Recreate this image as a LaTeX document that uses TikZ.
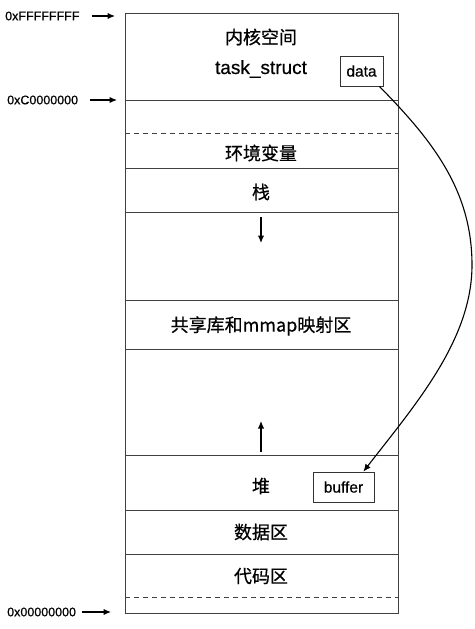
\documentclass[tikz,border=0pt]{standalone}
\usepackage{fontspec}
\setmainfont{Liberation Sans}[FakeBold=0.6]
\newfontfamily\cjk{Noto Sans CJK SC}[FakeBold=0.6]
\newfontfamily\lat{Liberation Sans}[FakeBold=0.6]
\usetikzlibrary{arrows.meta,shadows}

\begin{document}
\begin{tikzpicture}[x=1pt, y=-1pt, >={Latex[length=7.5pt,width=6.5pt]}]
		\tikzset{seg/.style={draw=black!75, line width=0.8pt}};
		\tikzset{lbl/.style={font=\cjk\fontsize{18}{18}\selectfont, inner sep=0pt}};
		\tikzset{addr/.style={font=\lat\fontsize{12.5}{12.5}\selectfont, anchor=west, inner sep=0pt}};
		\tikzset{var/.style={draw=black!80, fill=white, line width=0.8pt, minimum height=30pt, inner sep=0pt,
			font=\lat\fontsize{15.5}{15.5}\selectfont, drop shadow={shadow xshift=1.2pt, shadow yshift=-1.2pt, opacity=0.35}}};

		\useasboundingbox (0,0) rectangle (474,629);

		% memory layout
		\draw[seg] (125,13) rectangle (398,613);
		\draw[seg] (125,100) -- (398,100);
		\draw[seg, dashed, dash pattern=on 5pt off 4pt] (125,133) -- (398,133);
		\draw[seg] (125,168) -- (398,168);
		\draw[seg] (125,212) -- (398,212);
		\draw[seg] (125,300) -- (398,300);
		\draw[seg] (125,349) -- (398,349);
		\draw[seg] (125,455) -- (398,455);
		\draw[seg] (125,510) -- (398,510);
		\draw[seg] (125,554) -- (398,554);
		\draw[seg, dashed, dash pattern=on 5pt off 4pt] (125,597) -- (398,597);

		\node[lbl] (kernel) at (261,37) {内核空间};
		\node[lbl, font=\lat\fontsize{19}{19}\selectfont] (task) at (261,69) {task\_struct};
		\node[lbl] (env) at (261,153) {环境变量};
		\node[lbl] (stack) at (261,192) {栈};
		\node[lbl] (mmap) at (261,326) {共享库和mmap映射区};
		\node[lbl] (heap) at (261,486) {堆};
		\node[lbl] (data) at (261,532) {数据区};
		\node[lbl] (text) at (261,576) {代码区};

		\node[var, minimum width=43pt] (var) at (361.5,71) {data};
		\node[var, minimum width=61pt] (buffer) at (343.5,487) {buffer};

		% growth arrows
		\coordinate (sdown1) at (261,217);
		\coordinate (sdown2) at (261,243);
		\coordinate (hup1) at (261,452);
		\coordinate (hup2) at (261,421);
		\draw[->, line width=1.2pt] (sdown1) to (sdown2);
		\draw[->, line width=1.2pt] (hup1) to (hup2);

		% addresses
		\node[addr] (hi) at (5,16) {0xFFFFFFFF};
		\node[addr] (kb) at (7,100) {0xC0000000};
		\node[addr] (lo) at (7,612) {0x00000000};
		\coordinate (hiend) at (115,16);
		\coordinate (kbend) at (117,100);
		\coordinate (loend) at (111,612);
		\draw[->, line width=1.2pt, shorten <=12pt] (hi.east) to (hiend);
		\draw[->, line width=1.2pt, shorten <=12pt] (kb.east) to (kbend);
		\draw[->, line width=1.2pt, shorten <=6pt] (lo.east) to (loend);

		% pointer
		\coordinate (bend) at (472,265);
		\draw[->, line width=1.1pt] ([xshift=-4pt]var.south east) .. controls (432,140) and (472,190) .. (bend)
			.. controls (472,340) and (415,405) .. ([xshift=-11pt]buffer.north east);

	\end{tikzpicture}
\end{document}
